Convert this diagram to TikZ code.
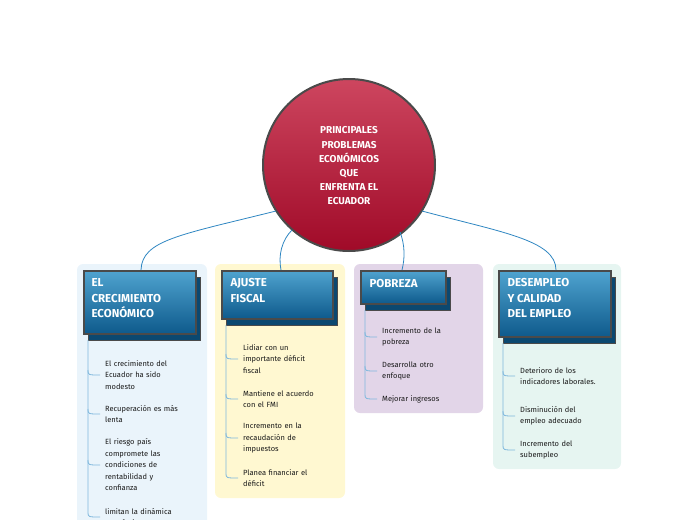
\documentclass[tikz,border=0pt]{standalone}
\usepackage{fontspec}
\setmainfont{Fira Sans}
\usetikzlibrary{shadings}
\definecolor{hdrtop}{HTML}{4FA3CF}
\definecolor{hdrbot}{HTML}{0E5A8C}
\definecolor{edge}{HTML}{4A4A4A}
\definecolor{conn}{HTML}{2E86C1}
\definecolor{br}{HTML}{7FB8DD}
\tikzset{
  panel/.style={rounded corners=6pt, draw=none},
  hdr/.style={draw=edge, line width=1.6pt, top color=hdrtop, bottom color=hdrbot, anchor=north west, inner sep=0pt},
  hdrshadow/.style={draw=edge, line width=1.2pt, fill=hdrbot!80!black, anchor=north west, inner sep=0pt},
  htext/.style={font=\bfseries\fontsize{11.5}{15.5}\selectfont, text=white, align=left, anchor=north west},
  item/.style={font=\fontsize{7.5}{11.5}\selectfont, execute at begin node={\hyphenpenalty=10000\relax}, text=black!90, align=left, anchor=west, text width=78pt, inner sep=0pt},
  conn/.style={draw=conn, line width=0.8pt},
  brl/.style={draw=br, line width=0.8pt}
}
\begin{document}
\begin{tikzpicture}[x=1pt,y=-1pt]
\useasboundingbox (0,0) rectangle (697,520);
\fill[panel, fill={rgb,255:red,234;green,244;blue,251}] (77,264) rectangle (207,530);
\fill[panel, fill={rgb,255:red,255;green,248;blue,209}] (215,264) rectangle (345,498);
\fill[panel, fill={rgb,255:red,226;green,213;blue,232}] (354,264) rectangle (483,413);
\fill[panel, fill={rgb,255:red,230;green,245;blue,241}] (493,264) rectangle (621,469);
\coordinate (c1) at (276,211);
\coordinate (c2) at (292,230);
\coordinate (c3) at (400,232);
\coordinate (c4) at (422,211);
\node[circle, minimum size=172pt, draw=edge, line width=2pt, top color={rgb,255:red,205;green,70;blue,95}, bottom color={rgb,255:red,160;green,10;blue,40}, inner sep=0pt] (center) at (349,165) {};
\node[font=\bfseries\fontsize{10}{14.2}\selectfont, text=white, align=center] (ctext) at (349,166) {PRINCIPALES\\PROBLEMAS\\ECONÓMICOS\\QUE\\ENFRENTA EL\\ECUADOR};
\node[hdrshadow, minimum width=112pt, minimum height=63pt] (s1) at (88,277) {};
\node[hdr, minimum width=112pt, minimum height=63pt] (h1) at (83,270) {};
\node[htext] at (h1.north west) [xshift=5pt,yshift=-5pt] {EL\\CRECIMIENTO\\ECONÓMICO};
\node[hdrshadow, minimum width=111pt, minimum height=48pt] (s2) at (226,277) {};
\node[hdr, minimum width=111pt, minimum height=48pt] (h2) at (221,270) {};
\node[htext] at (h2.north west) [xshift=6pt,yshift=-5pt] {AJUSTE\\FISCAL};
\node[hdrshadow, minimum width=85pt, minimum height=33pt] (s3) at (365,277) {};
\node[hdr, minimum width=85pt, minimum height=33pt] (h3) at (360,270) {};
\node[htext] at (h3.north west) [xshift=6pt,yshift=-6pt] {POBREZA};
\node[hdrshadow, minimum width=112pt, minimum height=66pt] (s4) at (503,277) {};
\node[hdr, minimum width=112pt, minimum height=66pt] (h4) at (498,270) {};
\node[htext] at (h4.north west) [xshift=6pt,yshift=-5pt] {DESEMPLEO\\Y CALIDAD\\DEL EMPLEO};
\draw[conn] (c1) .. controls (180,235) and (142,240) .. (141,270);
\draw[conn] (c2) .. controls (282,240) and (278,255) .. (281,270);
\draw[conn] (c3) .. controls (405,245) and (405,258) .. (402,270);
\draw[conn] (c4) .. controls (500,232) and (556,240) .. (556,270);
\node[item] (a1) at (105,375) {El crecimiento del Ecuador ha sido modesto};
\node[item] (a2) at (105,414) {Recuperación es más lenta};
\node[item] (a3) at (105,465) {El riesgo país compromete las condiciones de rentabilidad y confianza};
\node[item] (a4) at (105,517) {limitan la dinámica económica};
\draw[brl] (88,340) -- (88,512) .. controls (88,517) .. (100,517);
\foreach \y in {375,414,465}{\draw[brl] (88,\y-5) .. controls (88,\y) .. (100,\y);}
\node[item] (b1) at (243,359) {Lidiar con un importante déficit fiscal};
\node[item] (b2) at (243,399) {Mantiene el acuerdo con el FMI};
\node[item] (b3) at (243,438) {Incremento en la recaudación de impuestos};
\node[item] (b4) at (243,478) {Planea financiar el déficit};
\draw[brl] (226,325) -- (226,473) .. controls (226,478) .. (238,478);
\foreach \y in {359,399,438}{\draw[brl] (226,\y-5) .. controls (226,\y) .. (238,\y);}
\node[item] (p1) at (382,337) {Incremento de la pobreza};
\node[item] (p2) at (382,371) {Desarrolla otro enfoque};
\node[item] (p3) at (382,399) {Mejorar ingresos};
\draw[brl] (365,310) -- (365,394) .. controls (365,399) .. (377,399);
\foreach \y in {337,371}{\draw[brl] (365,\y-5) .. controls (365,\y) .. (377,\y);}
\node[item] (d1) at (520,376) {Deterioro de los indicadores laborales.};
\node[item] (d2) at (520,416) {Disminución del empleo adecuado};
\node[item] (d3) at (520,450) {Incremento del subempleo};
\draw[brl] (503,343) -- (503,445) .. controls (503,450) .. (515,450);
\foreach \y in {376,416}{\draw[brl] (503,\y-5) .. controls (503,\y) .. (515,\y);}
\end{tikzpicture}
\end{document}
